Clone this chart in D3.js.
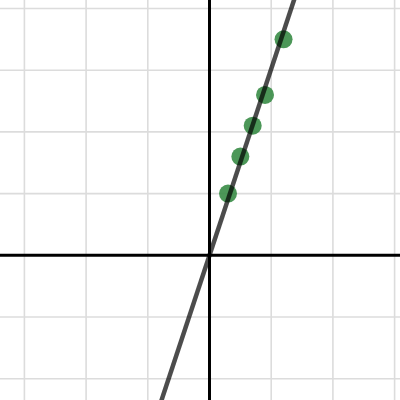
<!DOCTYPE html>
<html lang="en">
<head>
  <meta charset="UTF-8" />
  <title>Scatter with fitted line</title>
  <script src="https://d3js.org/d3.v7.min.js"></script>
  <style>
    body { margin: 0; padding: 0; background: #fff; }
    svg { display: block; }
    .grid line { stroke: #dcdcdc; stroke-width: 1.6; }
    .axis line { stroke: #000; stroke-width: 3; }
    .fit { stroke: #000; stroke-opacity: 0.7; stroke-width: 4.5; fill: none; }
    .pt { fill: #388c46; fill-opacity: 0.9; }
  </style>
</head>
<body>
  <div id="chart"></div>
  <script>
    // data (one grid square = 1 unit)
    const xs = [0.3, 0.5, 0.7, 0.9, 1.2];
    const ys = [1.0, 1.6, 2.1, 2.6, 3.5];
    const lineSlope = 3.02;

    // grid lines
    const xGrid = [-3, -2, -1, 1, 2, 3];
    const yGrid = [-2, -1, 1, 2, 3, 4];

    const width = 400, height = 400;
    const unit = 61.7;          // px per grid step
    const originX = 209.5, originY = 255.3;

    const x = d3.scaleLinear()
      .domain([-originX / unit, (width - originX) / unit])
      .range([0, width]);
    const y = d3.scaleLinear()
      .domain([-(height - originY) / unit, originY / unit])
      .range([height, 0]);

    const svg = d3.select("#chart").append("svg")
      .attr("width", width)
      .attr("height", height);

    const grid = svg.append("g").attr("class", "grid");
    grid.selectAll(".gx").data(xGrid).enter().append("line")
      .attr("x1", d => x(d)).attr("x2", d => x(d))
      .attr("y1", 0).attr("y2", height);
    grid.selectAll(".gy").data(yGrid).enter().append("line")
      .attr("y1", d => y(d)).attr("y2", d => y(d))
      .attr("x1", 0).attr("x2", width);

    const axes = svg.append("g").attr("class", "axis");
    axes.append("line")
      .attr("x1", x(0)).attr("x2", x(0))
      .attr("y1", 0).attr("y2", height);
    axes.append("line")
      .attr("y1", y(0)).attr("y2", y(0))
      .attr("x1", 0).attr("x2", width);

    const pts = xs.map((v, i) => ({ x: v, y: ys[i] }));
    svg.selectAll(".pt").data(pts).enter().append("circle")
      .attr("class", "pt")
      .attr("cx", d => x(d.x))
      .attr("cy", d => y(d.y))
      .attr("r", 9);

    // fitted line across the visible x range
    const [x0, x1] = x.domain();
    svg.append("line")
      .attr("class", "fit")
      .attr("x1", x(x0)).attr("y1", y(lineSlope * x0))
      .attr("x2", x(x1)).attr("y2", y(lineSlope * x1));
  </script>
</body>
</html>
